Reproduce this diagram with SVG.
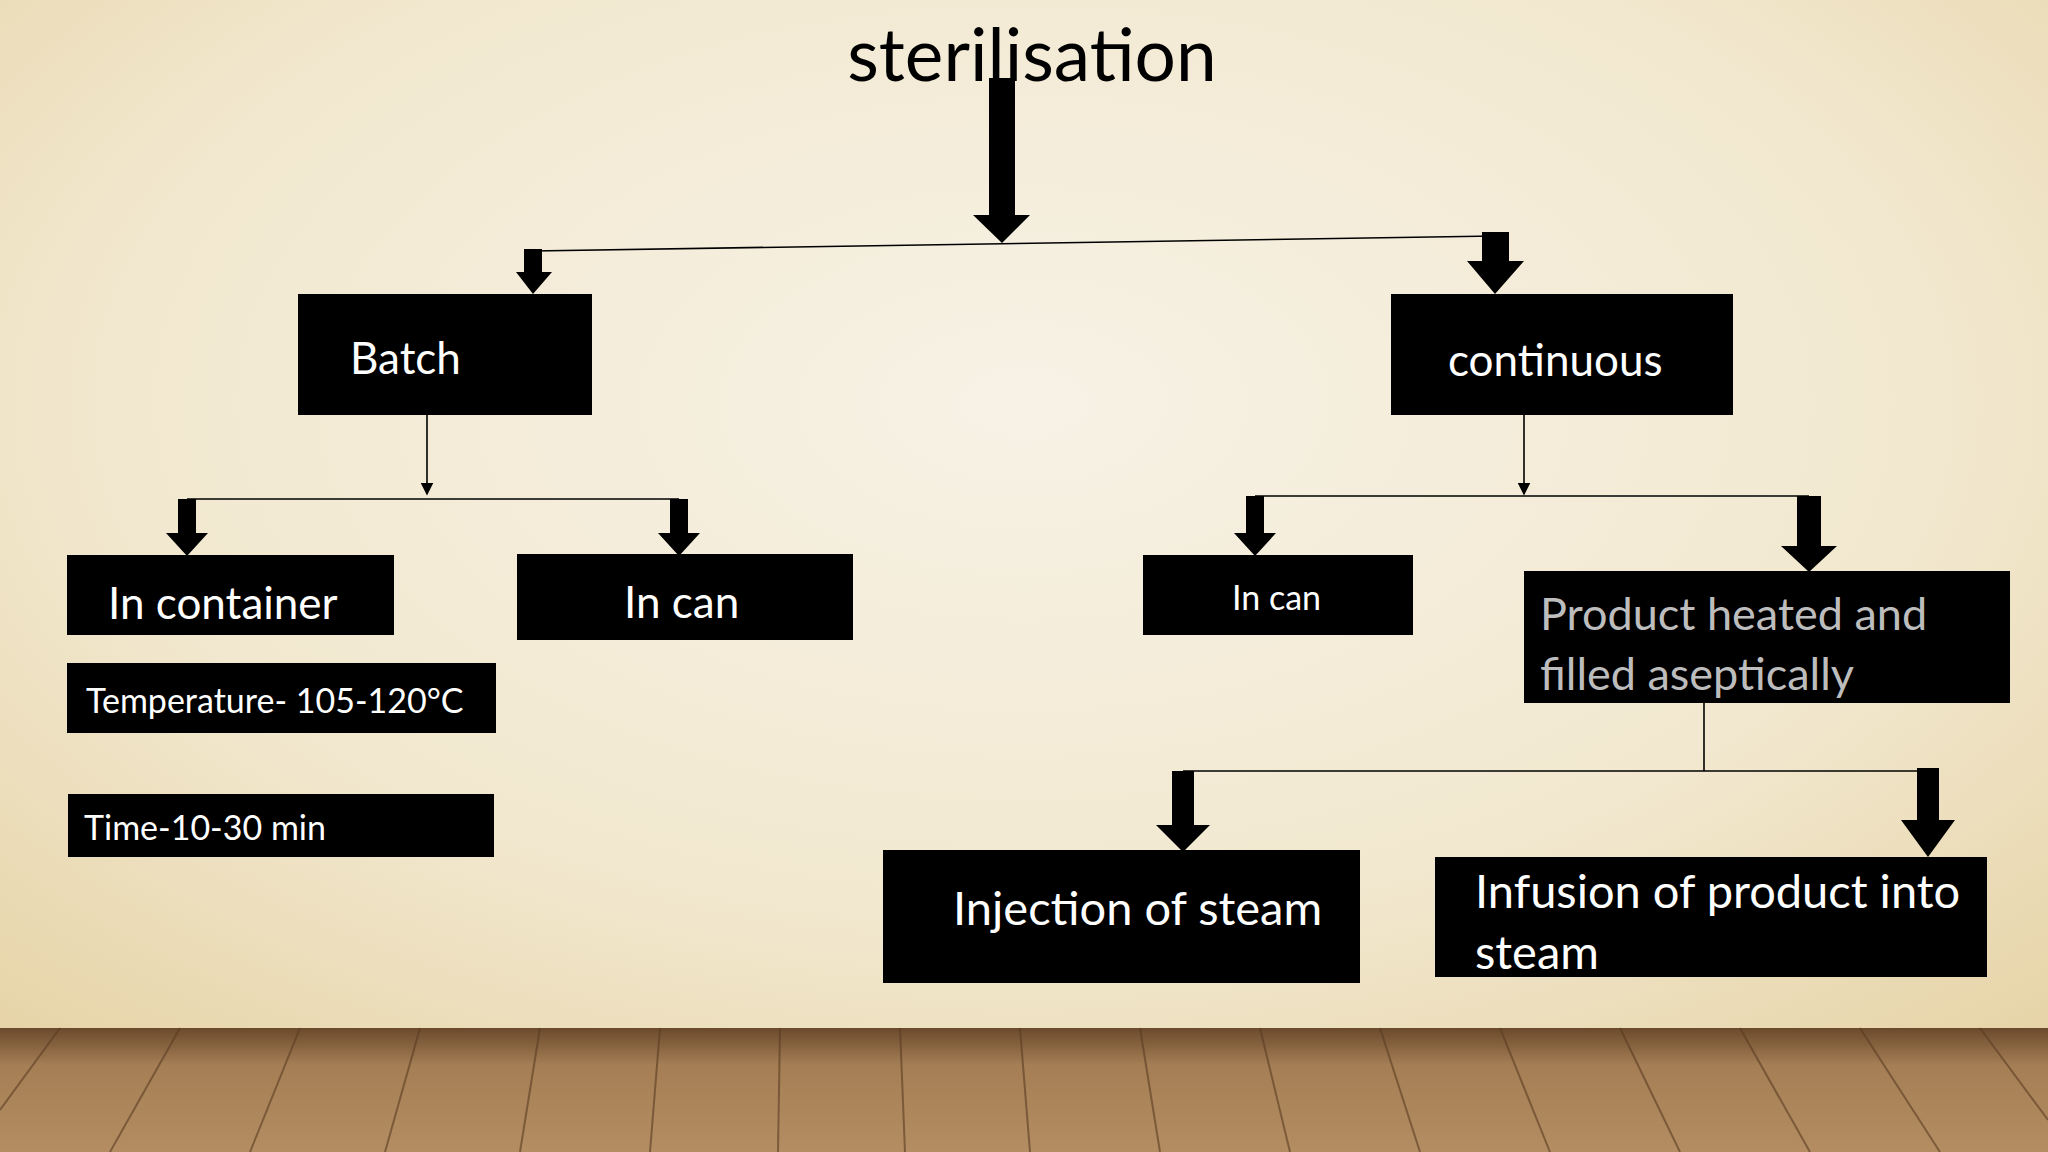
<svg xmlns="http://www.w3.org/2000/svg" width="2048" height="1152" viewBox="0 0 2048 1152">
<defs>
<radialGradient id="bg" cx="0.5" cy="0.35" r="0.75">
<stop offset="0" stop-color="#f7f2e6"/><stop offset="0.6" stop-color="#f2e8cf"/><stop offset="1" stop-color="#e6d3a6"/>
</radialGradient>
<linearGradient id="wood" x1="0" y1="0" x2="0" y2="1">
<stop offset="0" stop-color="#6b4a2c"/><stop offset="0.3" stop-color="#a57e55"/><stop offset="1" stop-color="#b48e62"/>
</linearGradient>
<marker id="tri" markerWidth="8" markerHeight="8" refX="7" refY="4" orient="auto"><path d="M0,0 L8,4 L0,8 z" fill="#000"/></marker>
</defs>
<style>
.box{fill:#000}
.t{font-family:Lato,"Open Sans",sans-serif;fill:#fff}
.ln{stroke:#000;stroke-width:1.6;fill:none}
</style>
<rect width="2048" height="1152" fill="url(#bg)"/>
<g id="floor">
<rect y="1028" width="2048" height="124" fill="url(#wood)"/>
<g stroke="#5a3c22" stroke-width="2" opacity="0.6">
<line x1="60" y1="1028" x2="0" y2="1110"/><line x1="180" y1="1028" x2="110" y2="1152"/><line x1="300" y1="1028" x2="250" y2="1152"/><line x1="420" y1="1028" x2="385" y2="1152"/><line x1="540" y1="1028" x2="520" y2="1152"/><line x1="660" y1="1028" x2="650" y2="1152"/><line x1="780" y1="1028" x2="778" y2="1152"/><line x1="900" y1="1028" x2="905" y2="1152"/><line x1="1020" y1="1028" x2="1030" y2="1152"/><line x1="1140" y1="1028" x2="1160" y2="1152"/><line x1="1260" y1="1028" x2="1290" y2="1152"/><line x1="1380" y1="1028" x2="1420" y2="1152"/><line x1="1500" y1="1028" x2="1550" y2="1152"/><line x1="1620" y1="1028" x2="1680" y2="1152"/><line x1="1740" y1="1028" x2="1810" y2="1152"/><line x1="1860" y1="1028" x2="1940" y2="1152"/><line x1="1980" y1="1028" x2="2048" y2="1120"/>
</g>
</g>
<text id="title" x="1032" y="81" text-anchor="middle" font-family="Lato,'Open Sans',sans-serif" font-size="73" fill="#000">sterilisation</text>
<g id="connectors">
<path class="box" d="M989,78 H1015 V215 H1030 L1002,243 L973,215 H989 Z"/>
<line class="ln" x1="533" y1="251" x2="1495" y2="236"/>
<path class="box" d="M524,249 H542 V272 H552 L533,294 L516,272 H524 Z"/>
<path class="box" d="M1482,232 H1509 V261 H1524 L1495,294 L1467,261 H1482 Z"/>
<line class="ln" x1="427" y1="415" x2="427" y2="494" marker-end="url(#tri)"/>
<line class="ln" x1="187" y1="499" x2="679" y2="499"/>
<path class="box" d="M178,499 H196 V533 H208 L187,556 L166,533 H178 Z"/>
<path class="box" d="M670,499 H688 V533 H700 L679,556 L658,533 H670 Z"/>
<line class="ln" x1="1524" y1="415" x2="1524" y2="494" marker-end="url(#tri)"/>
<line class="ln" x1="1255" y1="496" x2="1809" y2="496"/>
<path class="box" d="M1246,496 H1264 V533 H1276 L1255,556 L1234,533 H1246 Z"/>
<path class="box" d="M1797,496 H1821 V546 H1837 L1809,572 L1781,546 H1797 Z"/>
<line class="ln" x1="1704" y1="703" x2="1704" y2="771"/>
<line class="ln" x1="1183" y1="771" x2="1928" y2="771"/>
<path class="box" d="M1172,771 H1194 V825 H1210 L1183,852 L1156,825 H1172 Z"/>
<path class="box" d="M1917,768 H1939 V820 H1955 L1928,857 L1901,820 H1917 Z"/>
</g>
<g id="batch"><rect class="box" x="298" y="294" width="294" height="121"/><text class="t" x="350" y="374" font-size="44">Batch</text></g>
<g id="continuous"><rect class="box" x="1391" y="294" width="342" height="121"/><text class="t" x="1448" y="376" font-size="44">continuous</text></g>
<g id="incontainer"><rect class="box" x="67" y="555" width="327" height="80"/><text class="t" x="108" y="619" font-size="44">In container</text></g>
<g id="incan1"><rect class="box" x="517" y="554" width="336" height="86"/><text class="t" x="624" y="618" font-size="44">In can</text></g>
<g id="temp"><rect class="box" x="67" y="663" width="429" height="70"/><text class="t" x="86" y="713" font-size="34">Temperature- 105-120°C</text></g>
<g id="time"><rect class="box" x="68" y="794" width="426" height="63"/><text class="t" x="84" y="840" font-size="34">Time-10-30 min</text></g>
<g id="incan2"><rect class="box" x="1143" y="555" width="270" height="80"/><text class="t" x="1232" y="610" font-size="34">In can</text></g>
<g id="product"><rect class="box" x="1524" y="571" width="486" height="132"/><text class="t" x="1540" y="630" font-size="45" fill="#bdbdbd" style="fill:#bdbdbd">Product heated and</text><text class="t" x="1540" y="690" font-size="45" style="fill:#bdbdbd">filled aseptically</text></g>
<g id="injection"><rect class="box" x="883" y="850" width="477" height="133"/><text class="t" x="953" y="925" font-size="47">Injection of steam</text></g>
<g id="infusion"><rect class="box" x="1435" y="857" width="552" height="120"/><text class="t" x="1475" y="908" font-size="47">Infusion of product into</text><text class="t" x="1475" y="969" font-size="47">steam</text></g>
</svg>
